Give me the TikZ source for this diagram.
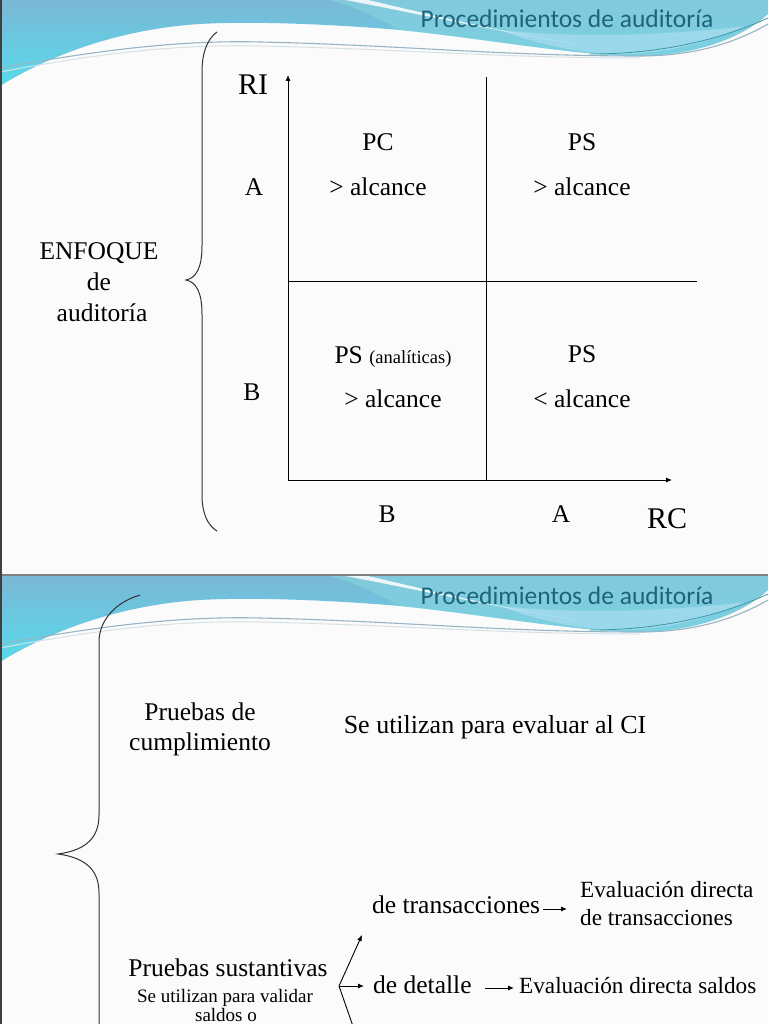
\documentclass[tikz,border=0pt]{standalone}
\usepackage{fontspec}
\setmainfont{Liberation Serif}
\newfontfamily\titlefont{Carlito}
\usetikzlibrary{arrows.meta}
\definecolor{bandA}{RGB}{122,184,214}
\definecolor{bandB}{RGB}{88,218,236}
\definecolor{bandR}{RGB}{136,212,224}
\definecolor{bandL}{RGB}{168,220,240}
\definecolor{swoosh}{RGB}{150,180,196}
\definecolor{titlecol}{RGB}{30,99,120}
\definecolor{slidebg}{RGB}{251,251,251}
\newcommand\slidehead[2]{%
\begin{scope}[shift={(0,#1)}]
  \shade[top color=bandA, bottom color=bandB]
    (0,0) -- (768,0) -- (768,14) .. controls (740,40) and (690,56) .. (637,56)
    .. controls (580,56) and (480,38) .. (400,30)
    .. controls (330,24) and (250,21) .. (200,24)
    .. controls (120,29) and (50,55) .. (0,86) -- cycle;
  \fill[bandR, opacity=0.6] (330,0) -- (768,0) -- (768,14) .. controls (740,40) and (690,56) .. (637,56)
    .. controls (580,56) and (480,38) .. (400,30) .. controls (380,20) and (360,8) .. (330,0) -- cycle;
  \fill[bandL, opacity=0.75] (500,30) .. controls (580,38) and (660,36) .. (745,26)
    .. controls (700,46) and (660,54) .. (615,54) .. controls (570,52) and (530,42) .. (500,30) -- cycle;
  \fill[white, opacity=0.85] (345,0) .. controls (400,10) and (480,28) .. (575,44)
    .. controls (490,30) and (420,12) .. (368,0) -- cycle;
  \draw[color=swoosh, line width=1.1pt]
    (0,68) .. controls (100,50) and (180,40) .. (260,42)
    .. controls (400,45) and (500,56) .. (640,56) .. controls (700,56) and (740,40) .. (768,24);
  \draw[color=swoosh!40, line width=1pt]
    (0,72) .. controls (100,53) and (180,44) .. (260,46)
    .. controls (400,49) and (500,58) .. (640,58);
  \draw[color=bandB!70!black, line width=0.8pt]
    (590,54) .. controls (660,54) and (720,40) .. (768,18);
  \node[font=\titlefont\fontsize{25.5}{30}\selectfont, text=titlecol, anchor=base, inner sep=0]
    (#2) at (567,28) {Procedimientos de auditoría};
\end{scope}}
\begin{document}
\begin{tikzpicture}[x=1pt,y=-1pt,
  txt/.style={font=\fontsize{25.5}{30}\selectfont, anchor=base, inner sep=0},
  big/.style={font=\fontsize{30}{34}\selectfont, anchor=base, inner sep=0},
  mid/.style={font=\fontsize{23.2}{26}\selectfont, anchor=base west, inner sep=0},
  small/.style={font=\fontsize{19}{20}\selectfont, anchor=base, inner sep=0},
  axis/.style={line width=1pt, color=black},
  brace/.style={line width=1pt, color=black!80},
  arr/.style={-{Latex[length=6pt,width=5pt]}, line width=0.9pt}]
\useasboundingbox (0,0) rectangle (768,1024);
\clip (0,0) rectangle (768,1024);
\fill[slidebg] (0,0) rectangle (768,1024);
\slidehead{0}{title1}
\slidehead{576}{title2}
\draw[color=black!50, line width=1.5pt] (0,575) -- (768,575);
\draw[color=black!75, line width=2pt] (1,0) -- (1,1024);

% ---------- top slide ----------
\draw[brace] (217,32) .. controls (206,40) and (202,55) .. (202,72) -- (202,246)
  .. controls (202,268) and (196,278) .. (186,280)
  .. controls (196,282) and (202,292) .. (202,314) -- (202,495)
  .. controls (202,512) and (207,525) .. (217,531);

\coordinate (O) at (288,480);
\coordinate (Ytop) at (288,75);
\coordinate (Xend) at (672,480);
\coordinate (Vtop) at (486,77);
\coordinate (Vbot) at (486,480);
\coordinate (Hl) at (288,281);
\coordinate (Hr) at (697,281);
\draw[axis, arr] (O) -- (Ytop);
\draw[axis, arr] (O) -- (Xend);
\draw[axis] (Vtop) -- (Vbot);
\draw[axis] (Hl) -- (Hr);

\node[big] (RI) at (253,95) {RI};
\node[txt] (lA) at (254,196) {A};
\node[txt] (lB) at (252,400) {B};
\node[txt] (bB) at (387,522) {B};
\node[txt] (bA) at (561,522) {A};
\node[big] (RC) at (667,528) {RC};

\node[txt] (q1a) at (378,151) {PC};
\node[txt] (q1b) at (378,196) {> alcance};
\node[txt] (q2a) at (582,151) {PS};
\node[txt] (q2b) at (582,196) {> alcance};
\node[txt] (q3a) at (393,363) {PS {\fontsize{18.5}{20}\selectfont(analíticas)}};
\node[txt] (q3b) at (393,407) {> alcance};
\node[txt] (q4a) at (582,362) {PS};
\node[txt] (q4b) at (582,407) {< alcance};

\node[txt] (enf1) at (99,259) {ENFOQUE};
\node[txt] (enf2) at (99,290) {de};
\node[txt] (enf3) at (102,321) {auditoría};

% ---------- bottom slide ----------
\draw[brace] (140,595) .. controls (116,602) and (99,620) .. (99,642) -- (99,815)
  .. controls (99,836) and (88,850) .. (58,854)
  .. controls (88,858) and (99,872) .. (99,893) -- (99,1030);

\node[txt] (pc1) at (200,720) {Pruebas de};
\node[txt] (pc2) at (200,750) {cumplimiento};
\node[txt, font=\fontsize{26}{30}\selectfont] (pcd) at (495,733) {Se utilizan para evaluar al CI};

\node[txt] (ps1) at (228,976) {Pruebas sustantivas};
\node[small] (ps2) at (225,1002) {Se utilizan para validar};
\node[small] (ps3) at (226,1021) {saldos o};

\node[txt, anchor=base west] (tr) at (372,913) {de transacciones};
\node[mid] (ev1) at (580,897) {Evaluación directa};
\node[mid] (ev2) at (580,925) {de transacciones};
\node[txt, anchor=base west] (det) at (373,993) {de detalle};
\node[mid] (ev3) at (519,993) {Evaluación directa saldos};

\coordinate (br) at (339,986);
\coordinate (brUp) at (362,935);
\coordinate (brMid) at (364,986);
\coordinate (brDn) at (355,1032);
\draw[arr] (br) -- (brUp);
\draw[arr] (br) -- (brMid);
\draw[line width=0.9pt] (br) -- (brDn);

\coordinate (a1s) at (543,909);
\coordinate (a1e) at (567,909);
\draw[arr] (a1s) -- (a1e);
\coordinate (a2s) at (485,988);
\coordinate (a2e) at (514,988);
\draw[arr] (a2s) -- (a2e);
\end{tikzpicture}
\end{document}
